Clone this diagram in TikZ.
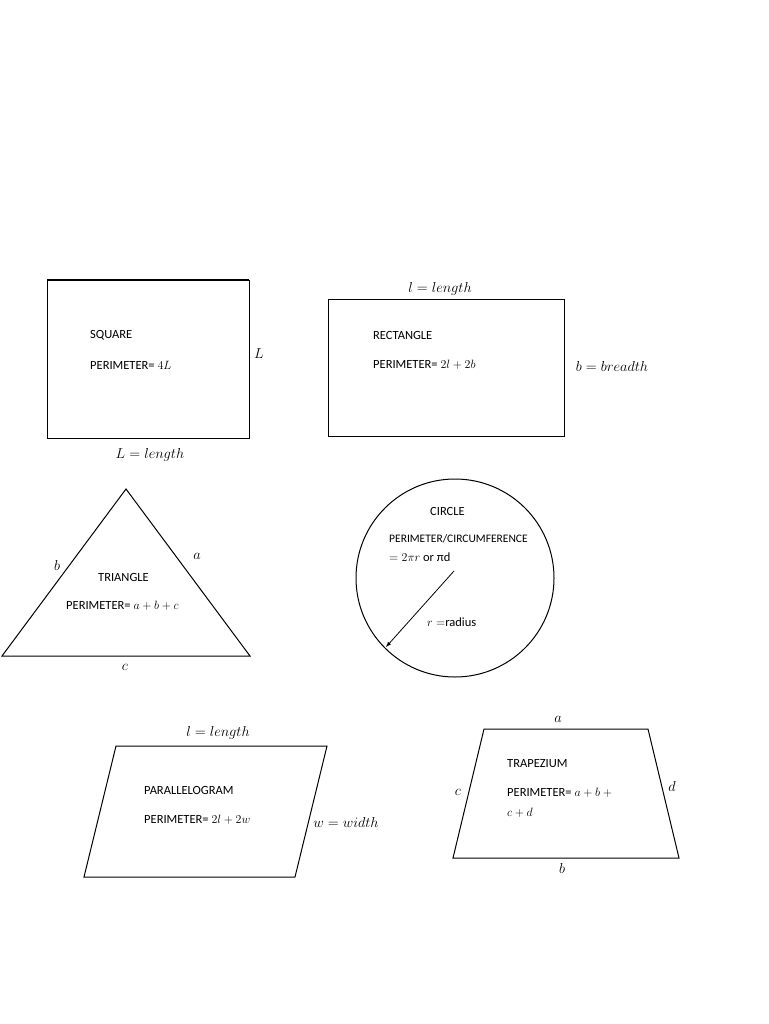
\documentclass[tikz,border=0pt]{standalone}
\usepackage{fontspec}
\setmainfont{Carlito}
\begin{document}
\begin{tikzpicture}[x=1pt,y=-1pt,
  lbl/.style={anchor=west,inner sep=0pt,font=\fontsize{12.5}{14}\selectfont},
  ml/.style={inner sep=0pt,font=\fontsize{14}{16}\selectfont},
  shp/.style={draw=black,line width=1pt}]
\useasboundingbox[fill=white] (0,0) rectangle (768,1024);
% square
\draw[shp] (47,280) rectangle (249,438);
\draw[line width=1.6pt] (47,280) -- (249,280);
\node[lbl] (sq1) at (90,335) {SQUARE};
\node[lbl] (sq2) at (90,365) {PERIMETER= $4L$};
\node[ml] (sqL) at (259,354) {$L$};
\node[ml] (sqb) at (150,455) {$L=length$};
% rectangle
\draw[shp] (328,299) rectangle (564,436);
\node[ml] (rl) at (440,289) {$l=length$};
\node[lbl] (r1) at (373,335) {RECTANGLE};
\node[lbl] (r2) at (373,365) {PERIMETER= $2l+2b$};
\node[ml] (rb) at (612,366) {$b=breadth$};
% triangle
\draw[shp] (126,489) -- (250,656) -- (2,656) -- cycle;
\node[ml] (tb) at (57,565) {$b$};
\node[ml] (ta) at (197,556) {$a$};
\node[ml] (tc) at (125,667) {$c$};
\node[lbl] (t1) at (98,577) {TRIANGLE};
\node[lbl] (t2) at (66,606) {PERIMETER= $a+b+c$};
% circle
\draw[shp] (455,578) circle (99);
\node[lbl] (c1) at (430,511) {CIRCLE};
\node[lbl,font=\fontsize{11.5}{13}\selectfont] (c2) at (389,539) {PERIMETER/CIRCUMFERENCE};
\node[lbl] (c3) at (389,557) {$=2\pi r$ or πd};
\coordinate (cs) at (454,571);
\coordinate (ce) at (386,647);
\draw[-latex,line width=0.8pt] (cs) -- (ce);
\node[lbl] (cr) at (427,622) {$r=$radius};
% parallelogram
\draw[shp] (116,746) -- (327,746) -- (295,877) -- (84,877) -- cycle;
\node[ml] (pl) at (218,733) {$l=length$};
\node[lbl] (p1) at (144,790) {PARALLELOGRAM};
\node[lbl] (p2) at (144,820) {PERIMETER= $2l+2w$};
\node[ml] (pw) at (346,822) {$w=width$};
% trapezium
\draw[shp] (484,729) -- (648,729) -- (679,858) -- (453,858) -- cycle;
\node[ml] (za) at (558,719) {$a$};
\node[ml] (zc) at (458,792) {$c$};
\node[ml] (zd) at (672,786) {$d$};
\node[ml] (zb) at (562,868) {$b$};
\node[lbl] (z1) at (507,764) {TRAPEZIUM};
\node[lbl] (z2) at (507,793) {PERIMETER= $a+b+{}$};
\node[lbl] (z3) at (507,813) {$c+d$};
\end{tikzpicture}
\end{document}
